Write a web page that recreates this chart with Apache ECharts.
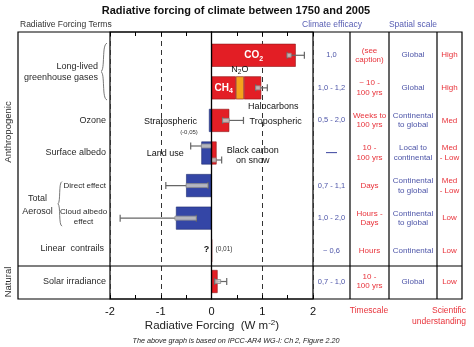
<!DOCTYPE html>
<html><head><meta charset="utf-8">
<script src="https://cdn.jsdelivr.net/npm/echarts@6/dist/echarts.min.js"></script>
<style>html,body{margin:0;padding:0;background:#fff}#c{width:474px;height:347px}</style>
</head><body><div id="c"></div>
<script>
// ---------- data (W m-2) ----------
const rowKeys = ['co2', 'ghg', 'ozone', 'albedo', 'direct', 'cloud', 'contrails'];
const naturalKeys = ['solar'];
const primaryValues = [1.66, 0.48, 0.35, 0.10, -0.50, -0.70, 0.01];   // CO2, CH4, trop. O3, black carbon, direct, cloud, contrails
const secondValues  = ['-', 0.16, -0.05, -0.20, '-', '-', '-'];      // N2O, strat. O3, land use
const thirdValues   = ['-', 0.34, '-', '-', '-', '-', '-'];          // halocarbons
const solarValues   = [0.12];

const errRows    = [0, 1, 2, 3, 3, 4, 5];
const errLow     = [1.49, 0.87, 0.22, -0.41, 0.00, -0.90, -1.80];
const errHigh    = [1.83, 1.10, 0.63, 0.00, 0.20, -0.07, -0.30];
const errBoxLow  = [1.49, 0.87, 0.22, -0.20, 0.00, -0.50, -0.72];
const errBoxHigh = [1.57, 0.96, 0.35, 0.00, 0.09, -0.07, -0.30];
const solarErr   = [0.06, 0.30, 0.07, 0.18];

const xTicks = [-2, -1, 0, 1, 2];
const efficacy = ['1,0', '1,0 - 1,2', '0,5 - 2,0', '—', '0,7 - 1,1', '1,0 - 2,0', '~ 0,6', '0,7 - 1,0'];
const timescale = ['(see\ncaption)', '~ 10 -\n100 yrs', 'Weeks to\n100 yrs', '10 -\n100 yrs', 'Days', 'Hours -\nDays', 'Hours', '10 -\n100 yrs'];
const spatial = ['Global', 'Global', 'Continental\nto global', 'Local to\ncontinental', 'Continental\nto global', 'Continental\nto global', 'Continental', 'Global'];
const understanding = ['High', 'High', 'Med', 'Med\n- Low', 'Med\n- Low', 'Low', 'Low', 'Low'];

// ---------- styling ----------
const FONT = '"Liberation Sans", Arial, sans-serif';
const RED = '#e31e25', BLUE = '#3446a6', ORANGE = '#f5a31c';
const TBLUE = '#4d55a8', TRED = '#e8333b', TXT = '#2a2a2a';

function colorFor(series, v, i) {
  if (series === 'second' && i === 1) return ORANGE;
  return v < 0 ? BLUE : RED;
}
function items(arr, series, labels) {
  return arr.map((v, i) => {
    if (v === '-') return '-';
    const o = {value: v, itemStyle: {color: colorFor(series, v, i),
      borderColor: v < 0 ? '#1f2b6e' : '#8e1717', borderWidth: 0.6}};
    if (labels && labels[i]) {
      o.label = {show: true, position: 'inside', formatter: labels[i], color: '#fff',
        fontWeight: 'bold', fontSize: 10, fontFamily: FONT, lineHeight: 14,
        rich: {s: {fontSize: 7, color: '#fff', fontWeight: 'bold', verticalAlign: 'bottom', fontFamily: FONT}}};
    }
    return o;
  });
}

function errRender(rowsArr) {
  return function (params, api) {
    const row = api.value(0), i = api.value(5);
    const same = rowsArr.map((r, j) => j).filter(j => rowsArr[j] === row);
    const off = same.length > 1 ? (same.indexOf(i) - (same.length - 1) / 2) * 14 : 0;
    const pL = api.coord([api.value(1), row]);
    const pH = api.coord([api.value(2), row]);
    const bL = api.coord([api.value(3), row]);
    const bH = api.coord([api.value(4), row]);
    const y = pL[1] + off;
    const st = {stroke: '#666', lineWidth: 1.2};
    return {type: 'group', children: [
      {type: 'line', shape: {x1: pL[0], y1: y, x2: pH[0], y2: y}, style: st},
      {type: 'line', shape: {x1: pL[0], y1: y - 3.5, x2: pL[0], y2: y + 3.5}, style: st},
      {type: 'line', shape: {x1: pH[0], y1: y - 3.5, x2: pH[0], y2: y + 3.5}, style: st},
      {type: 'rect', shape: {x: bL[0], y: y - 2, width: Math.max(bH[0] - bL[0], 1.5), height: 4},
        style: {fill: 'rgba(205,205,205,0.8)', stroke: '#8a8a8a', lineWidth: 0.8}}
    ]};
  };
}

const chart = echarts.init(document.getElementById('c'), null, {renderer: 'canvas'});
const baseX = {type: 'value', min: -2, max: 2};
const tickAxis = {interval: 0.5, axisLine: {show: false, onZero: false},
  axisTick: {show: true, inside: true, length: 4, lineStyle: {color: '#000', width: 1}},
  splitLine: {show: false}};
chart.setOption({
  animation: false,
  textStyle: {fontFamily: FONT},
  grid: [
    {left: 110, top: 32, width: 203, height: 267, show: true, borderColor: '#000', borderWidth: 1.2, backgroundColor: 'transparent'},
    {left: 110, top: 39, width: 203, height: 228},
    {left: 110, top: 266, width: 203, height: 31}
  ],
  xAxis: [
    Object.assign({}, baseX, tickAxis, {gridIndex: 0, position: 'bottom', z: 1,
      axisLabel: {show: true, margin: 7, fontSize: 11, color: '#111', fontFamily: FONT,
        formatter: v => xTicks.indexOf(v) >= 0 ? String(v) : ''}}),
    Object.assign({}, baseX, tickAxis, {gridIndex: 0, position: 'top', z: 1, axisLabel: {show: false}}),
    Object.assign({}, baseX, {gridIndex: 1, show: false}),
    Object.assign({}, baseX, {gridIndex: 2, show: false}),
    Object.assign({}, baseX, {gridIndex: 0, interval: 1, position: 'bottom', z: 0,
      axisLine: {show: false, onZero: false}, axisTick: {show: false}, axisLabel: {show: false},
      splitLine: {show: true, lineStyle: {color: '#333', type: [5, 4], width: 1}}})
  ],
  yAxis: [
    {type: 'value', gridIndex: 0, min: 0, max: 1, z: 10,
      axisLine: {show: true, onZero: true, onZeroAxisIndex: 0, lineStyle: {color: '#000', width: 1.3}},
      axisTick: {show: false}, axisLabel: {show: false}, splitLine: {show: false}},
    {type: 'category', gridIndex: 1, data: rowKeys, inverse: true, show: false},
    {type: 'category', gridIndex: 2, data: naturalKeys, inverse: true, show: false}
  ],
  series: [
    {type: 'bar', name: 'primary', xAxisIndex: 2, yAxisIndex: 1, stack: 'rf', barWidth: 23, z: 2,
      data: items(primaryValues, 'primary', ['CO{s|2}', 'CH{s|4}'])},
    {type: 'bar', name: 'second', xAxisIndex: 2, yAxisIndex: 1, stack: 'rf', barWidth: 23, z: 2,
      data: items(secondValues, 'second')},
    {type: 'bar', name: 'third', xAxisIndex: 2, yAxisIndex: 1, stack: 'rf', barWidth: 23, z: 2,
      data: items(thirdValues, 'third')},
    {type: 'custom', xAxisIndex: 2, yAxisIndex: 1, z: 3,
      renderItem: errRender(errRows),
      data: errRows.map((r, i) => [r, errLow[i], errHigh[i], errBoxLow[i], errBoxHigh[i], i])},
    {type: 'bar', name: 'solar', xAxisIndex: 3, yAxisIndex: 2, barWidth: 23, z: 2,
      data: items(solarValues, 'solar')},
    {type: 'custom', xAxisIndex: 3, yAxisIndex: 2, z: 3,
      renderItem: errRender([0]),
      data: [[0, solarErr[0], solarErr[1], solarErr[2], solarErr[3], 0]]}
  ]
});

// ---------- text & frame ----------
const yRow = k => chart.convertToPixel({yAxisIndex: 1}, k);
const xVal = v => chart.convertToPixel({xAxisIndex: 2}, v);
const ySolar = chart.convertToPixel({yAxisIndex: 2}, 'solar');
const rowYs = rowKeys.map(yRow).concat([ySolar]);

function T(text, x, y, o) {
  o = o || {};
  return {type: 'text', x: x, y: y, rotation: o.rot || 0, z: 20, silent: true,
    style: {text: text, fill: o.color || TXT, fontSize: o.size || 9, fontFamily: FONT,
      fontWeight: o.bold ? 'bold' : 'normal', fontStyle: o.italic ? 'italic' : 'normal',
      align: o.align || 'center', verticalAlign: 'middle',
      textAlign: o.align || 'center', textVerticalAlign: 'middle',
      lineHeight: o.lh || Math.round((o.size || 9) * 1.15), rich: o.rich}};
}
function L(x1, y1, x2, y2, w) {
  return {type: 'line', z: 15, silent: true, shape: {x1, y1, x2, y2}, style: {stroke: '#000', lineWidth: w || 1.2}};
}
function brace(x, top, bottom, depth) {
  const mid = (top + bottom) / 2, tip = x - depth;
  const st = {stroke: '#555', lineWidth: 0.8, fill: null};
  return [
    {type: 'bezierCurve', z: 15, silent: true, shape: {x1: x, y1: top, cpx1: x - depth * 0.9, cpy1: top + 1, cpx2: x - depth * 0.3, cpy2: mid - 2, x2: tip, y2: mid}, style: st},
    {type: 'bezierCurve', z: 15, silent: true, shape: {x1: x, y1: bottom, cpx1: x - depth * 0.9, cpy1: bottom - 1, cpx2: x - depth * 0.3, cpy2: mid + 2, x2: tip, y2: mid}, style: st}
  ];
}

const colX = [331.5, 369.5, 413, 449.5];
const g = [];
g.push({type: 'rect', z: 15, silent: true, shape: {x: 18, y: 32, width: 444, height: 267}, style: {fill: null, stroke: '#000', lineWidth: 1.2}});
[350, 389, 437].forEach(x => g.push(L(x, 32, x, 299)));
g.push(L(18, 266, 462, 266));

g.push(T('Radiative forcing of climate between 1750 and 2005', 236, 11, {size: 11, bold: true, color: '#111'}));
g.push(T('Radiative Forcing Terms', 20, 25, {align: 'left', size: 8.5, color: '#333'}));
g.push(T('Climate efficacy', 332, 25, {size: 8.5, color: '#5a60b4'}));
g.push(T('Spatial scale', 413, 25, {size: 8.5, color: '#5a60b4'}));
g.push(T('Timescale', 369, 311, {size: 8.5, color: TRED}));
g.push(T('Scientific\nunderstanding', 466, 316.5, {size: 8.5, color: TRED, align: 'right', lh: 11}));
g.push(T('Radiative Forcing  (W m{sup|-2})', 212, 326, {size: 11.5, color: '#222', lh: 14,
  rich: {sup: {fontSize: 8, verticalAlign: 'top', fill: '#222', fontFamily: FONT}}}));
g.push(T('The above graph is based on IPCC-AR4 WG-I: Ch 2, Figure 2.20', 236, 341, {size: 7.2, italic: true, color: '#222'}));
g.push(T('Anthropogenic', 8, 132, {size: 9.5, rot: Math.PI / 2}));
g.push(T('Natural', 8, 282, {size: 9.5, rot: Math.PI / 2}));

g.push(T('Long-lived\ngreenhouse gases', 98, (rowYs[0] + rowYs[1]) / 2, {align: 'right', lh: 11}));
brace(107, rowYs[0] - 12, rowYs[1] + 12, 6).forEach(e => g.push(e));
g.push(T('Ozone', 106, rowYs[2], {align: 'right'}));
g.push(T('Surface albedo', 106, rowYs[3], {align: 'right'}));
g.push(T('Direct effect', 106, rowYs[4], {align: 'right', size: 8}));
g.push(T('Cloud albedo\neffect', 83.5, rowYs[5] - 1.5, {size: 8, lh: 9.5}));
g.push(T('Total\nAerosol', 37.5, (rowYs[4] + rowYs[5]) / 2 + 3, {size: 9, lh: 13}));
brace(62, rowYs[4] - 4, rowYs[5] + 8, 4).forEach(e => g.push(e));
g.push(T('Linear  contrails', 104, rowYs[6] - 2, {align: 'right'}));
g.push(T('Solar irradiance', 106, rowYs[7], {align: 'right'}));

const sub = {s: {fontSize: 6.5, verticalAlign: 'bottom', fill: '#111', fontFamily: FONT}};
g.push(T('N{s|2}O', (xVal(0.48) + xVal(0.64)) / 2, rowYs[1] - 18, {size: 9, color: '#111', lh: 12, rich: sub}));
g.push(T('Halocarbons', xVal(0.64) + 4, rowYs[1] + 19, {align: 'left', color: '#111'}));
g.push(T('Stratospheric', xVal(-0.05) - 12, rowYs[2] + 1, {align: 'right', color: '#111'}));
g.push(T('(-0,05)', xVal(-0.05) - 20, rowYs[2] + 12, {size: 6, color: '#333'}));
g.push(T('Tropospheric', xVal(0.63) + 6, rowYs[2] + 1, {align: 'left', color: '#111'}));
g.push(T('Land use', xVal(-0.41) - 7, rowYs[3] + 1, {align: 'right', color: '#111'}));
g.push(T('Black carbon\non snow', xVal(0.2) + 31, rowYs[3] + 2.5, {color: '#111', lh: 9.5}));
g.push(T('?', xVal(0) - 5, rowYs[6] - 1.5, {bold: true, color: '#111'}));
g.push(T('(0,01)', xVal(0) + 4, rowYs[6] - 1.5, {align: 'left', size: 6.5, color: '#333'}));

rowYs.forEach((y, i) => {
  if (efficacy[i] === '—') g.push(T('—', colX[0], y, {size: 11, bold: true, color: TBLUE}));
  else g.push(T(efficacy[i], colX[0], y, {size: 7.5, color: TBLUE}));
  g.push(T(timescale[i], colX[1], y, {size: 8, color: TRED, lh: 9.5}));
  g.push(T(spatial[i], colX[2], y, {size: 8, color: TBLUE, lh: 9.5}));
  g.push(T(understanding[i], colX[3], y, {size: 8, color: TRED, lh: 9.5}));
});

chart.setOption({graphic: g});
</script>
</body></html>
